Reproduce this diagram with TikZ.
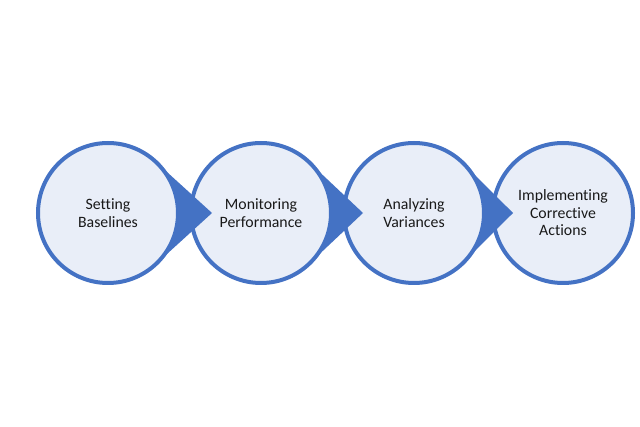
\documentclass[tikz,border=0pt]{standalone}
\usepackage{fontspec}
\setmainfont{Carlito}[Ligatures=NoCommon]
\usetikzlibrary{calc}
\definecolor{stepblue}{HTML}{4472C4}
\definecolor{steplight}{HTML}{E9EEF8}
\begin{document}
\begin{tikzpicture}[x=1pt,y=-1pt,
  stepcircle/.style={circle, minimum size=140pt, inner sep=0pt, draw=stepblue, line width=4pt, fill=steplight, align=center, font=\fontsize{15.8}{17.5}\selectfont, text=black!90},
  tipfill/.style={fill=stepblue, draw=none}]
\useasboundingbox (0,0) rectangle (640,427);
\node[stepcircle] (c1) at (108,213) {Setting\\Baselines};
\node[stepcircle] (c2) at (261,213) {Monitoring\\Performance};
\node[stepcircle] (c3) at (414,213) {Analyzing\\Variances};
\node[stepcircle] (c4) at (563,213) {Implementing\\Corrective\\Actions};
% pointed tips, drawn over the next circle
\coordinate (t1) at (212,213);
\coordinate (t2) at (363,213);
\coordinate (t3) at (513,213);
\fill[tipfill] ($(c1.center)+(47:70)$) -- (t1) -- ($(c1.center)+(-47:70)$) arc[start angle=-47, end angle=47, radius=70] -- cycle;
\fill[tipfill] ($(c2.center)+(47:70)$) -- (t2) -- ($(c2.center)+(-47:70)$) arc[start angle=-47, end angle=47, radius=70] -- cycle;
\fill[tipfill] ($(c3.center)+(47:70)$) -- (t3) -- ($(c3.center)+(-47:70)$) arc[start angle=-47, end angle=47, radius=70] -- cycle;
\end{tikzpicture}
\end{document}
